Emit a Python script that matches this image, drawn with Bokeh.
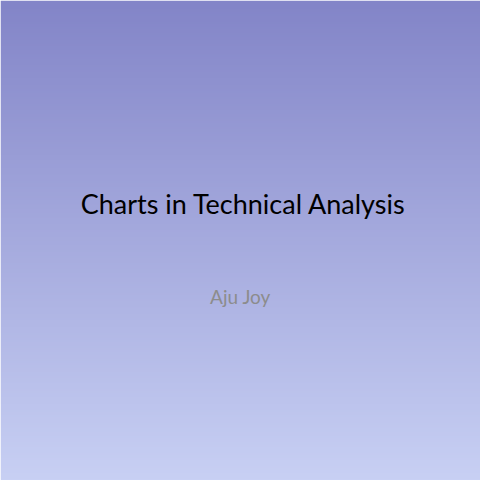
import numpy as np
from bokeh.plotting import figure
from bokeh.models import Range1d
from bokeh.core.properties import value
from bokeh.embed import file_html
from bokeh.resources import INLINE

title_text = ["Charts in Technical Analysis"]
subtitle_text = ["Aju Joy"]
top_color = (0x83, 0x85, 0xC8)
bottom_color = (0xC8, 0xD0, 0xF4)

W, H = 480, 480
p = figure(width=W, height=H, output_backend="svg", toolbar_location=None,
           x_range=Range1d(0, W), y_range=Range1d(0, H), min_border=0)
p.axis.visible = False
p.grid.visible = False
p.outline_line_color = None

# vertical gradient background
n = 256
t = np.linspace(0, 1, n)[:, None]  # row 0 = bottom
img = np.zeros((n, 1), dtype=np.uint32)
view = img.view(dtype=np.uint8).reshape((n, 1, 4))
for i in range(3):
    view[:, :, i] = (bottom_color[i] + (top_color[i] - bottom_color[i]) * t).astype(np.uint8)
view[:, :, 3] = 255
p.image_rgba(image=[img], x=0, y=0, dw=W, dh=H)

p.text(x=[W / 2 + 3], y=[H - 203], text=title_text, text_align="center", text_baseline="middle",
       text_font=value("Lato"), text_font_size="27px", text_color="#000000")
p.text(x=[W / 2], y=[H - 296], text=subtitle_text, text_align="center", text_baseline="middle",
       text_font=value("Lato"), text_font_size="19px", text_color="#8c8c8c")

open("out.html", "w").write(file_html(p, INLINE))
